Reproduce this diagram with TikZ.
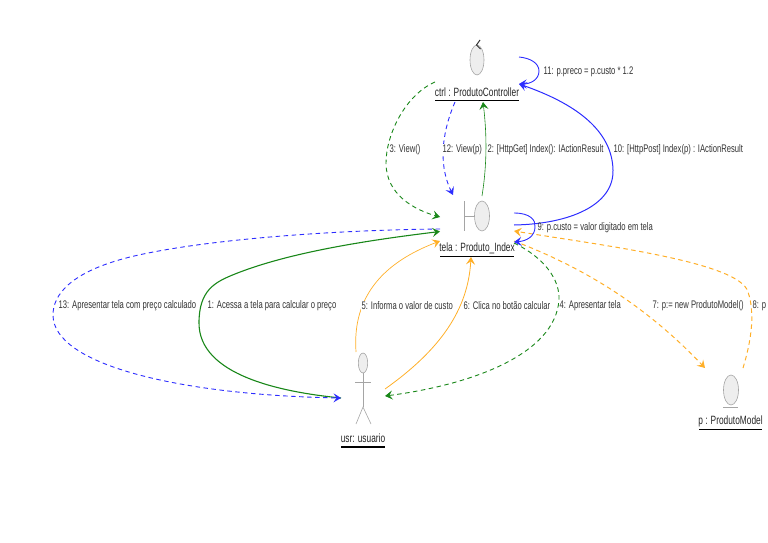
\documentclass[tikz,border=0pt]{standalone}
\usepackage{fontspec}
\setmainfont[FakeStretch=0.695]{Liberation Sans}
\usetikzlibrary{arrows.meta}

\definecolor{msgblue}{RGB}{45,45,255}
\definecolor{msggreen}{RGB}{25,135,25}
\definecolor{msgorange}{RGB}{255,175,40}
\definecolor{objgray}{RGB}{238,238,238}
\definecolor{objline}{RGB}{165,165,165}

\tikzset{
    msg/.style={-{Stealth[length=7.5pt,width=9pt,inset=3pt]}, line width=0.9pt},
    retmsg/.style={msg, dashed, dash pattern=on 4.5pt off 3.5pt},
    obj/.style={draw=objline, fill=objgray, line width=0.6pt},
    objbox/.style={inner sep=0pt, outer sep=0pt},
    objname/.style={font=\fontsize{12}{14}\selectfont, text=black!85, inner sep=0pt},
    msgtext/.style={font=\fontsize{11}{13}\selectfont, text=black!80, anchor=west, fill=white, inner sep=0.5pt}
}

\begin{document}
\begin{tikzpicture}[x=1pt, y=-1pt]
                \useasboundingbox (0, 0) rectangle (768, 543);

                \node[objbox, minimum width=84pt, minimum height=62pt] (ctrl) at (477, 71) {};

                \node[objbox, minimum width=74pt, minimum height=61pt] (tela) at (477, 226.5) {};

                \node[objbox, minimum width=44pt, minimum height=96pt] (usr) at (363, 400) {};

                \node[objbox, minimum width=63pt, minimum height=62pt] (modelo) at (730.5, 399) {};

                \draw[obj] (477, 60) ellipse[x radius=7, y radius=15];

                \draw[black!80, line width=1pt] (480, 40) -- (476.5, 45) -- (480.5, 49);

                \draw[obj] (482, 216) ellipse[x radius=7.5, y radius=15];

                \draw[objline, line width=0.6pt] (464, 201) -- (464, 231);

                \draw[objline, line width=0.6pt] (464, 216) -- (474.5, 216);

                \draw[obj] (363, 363) ellipse[x radius=4.7, y radius=10];

                \draw[objline, line width=0.6pt] (363, 373) -- (363, 407);

                \draw[objline, line width=0.6pt] (355, 382) -- (371, 382);

                \draw[objline, line width=0.6pt] (356, 424) -- (363, 407) -- (371, 424);

                \draw[obj] (731, 390) ellipse[x radius=7.5, y radius=15];

                \draw[objline, line width=1pt] (723, 407) -- (738, 407);

                \node[objname] (ctrlname) at (477, 92) {ctrl : ProdutoController};

                \draw[line width=1.1pt] (435, 100.5) -- (519, 100.5);

                \node[objname] (telaname) at (477, 248) {tela : Produto\_Index};

                \draw[line width=1.3pt] (440, 256.5) -- (514, 256.5);

                \node[objname] (usrname) at (363, 438) {usr: usuario};

                \draw[line width=1.3pt] (341, 447) -- (385, 447);

                \node[objname] (modeloname) at (730.5, 421) {p : ProdutoModel};

                \draw[line width=0.6pt] (699, 429) -- (762, 429);

                \draw[msg, msggreen, line width=1.1pt] ([yshift=2pt]usr.west) .. controls (280, 392) and (199, 375) .. (199, 323) .. controls (199, 290) and (215, 282) .. (235, 274) .. controls (290, 252) and (370, 240) .. ([yshift=-5pt]tela.west);

                \draw[retmsg, msgblue] ([yshift=-2.5pt]tela.west) .. controls (330, 230) and (200, 240) .. (130, 257) .. controls (70, 272) and (53, 295) .. (53, 315) .. controls (53, 365) and (180, 395) .. ([yshift=2pt]usr.west);

                \draw[msg, msgorange, line width=0.7pt] ([xshift=-7pt]usr.north) .. controls (352, 295) and (385, 262) .. ([yshift=-14.5pt]tela.west);

                \draw[msg, msgorange, line width=0.8pt] ([yshift=11pt]usr.east) .. controls (440, 350) and (468, 310) .. ([xshift=-6pt]tela.south);

                \draw[retmsg, msggreen] ([yshift=-16.5pt]tela.east) .. controls (545, 258) and (560, 280) .. (559, 300) .. controls (555, 355) and (470, 385) .. ([yshift=4pt]usr.east);

                \draw[retmsg, msgorange, line width=1pt] ([yshift=-14.5pt]tela.east) .. controls (590, 270) and (650, 310) .. ([xshift=-25.5pt]modelo.north);

                \draw[retmsg, msgorange, line width=1pt] ([xshift=12.5pt]modelo.north) .. controls (750, 345) and (756, 315) .. (748, 292) .. controls (740, 262) and (600, 245) .. ([yshift=-4.5pt]tela.east);

                \draw[msg, msgblue] ([yshift=13.5pt]tela.east) .. controls (530, 213) and (536, 220) .. (535, 227) .. controls (535, 236) and (527, 241) .. ([yshift=-15.5pt]tela.east);

                \draw[msg, msgblue, line width=1pt] ([yshift=1.5pt]tela.east) .. controls (570, 224) and (614, 205) .. (613, 170) .. controls (612, 125) and (565, 100) .. ([yshift=-13pt]ctrl.east);

                \draw[msg, msgblue] ([yshift=14pt]ctrl.east) .. controls (530, 58) and (539, 63) .. (539, 71) .. controls (539, 80) and (530, 84) .. ([yshift=-13pt]ctrl.east);

                \draw[msg, msggreen, line width=0.6pt] ([xshift=5pt]tela.north) .. controls (487, 165) and (487, 135) .. ([xshift=6pt]ctrl.south);

                \draw[retmsg, msggreen] ([yshift=-11pt]ctrl.west) .. controls (405, 95) and (386, 135) .. (386, 163) .. controls (386, 195) and (415, 210) .. ([yshift=9.5pt]tela.west);

                \draw[retmsg, msgblue] ([xshift=-22pt]ctrl.south) .. controls (445, 125) and (436, 160) .. ([xshift=-24pt,yshift=1pt]tela.north);

                \node[msgtext] (m13) at (58, 306) {13: Apresentar tela com preço calculado};

                \node[msgtext] (m1) at (207, 306) {1: Acessa a tela para calcular o preço};

                \node[msgtext] (m5) at (361, 306) {5: Informa o valor de custo};

                \node[msgtext] (m6) at (463, 306) {6: Clica no botão calcular};

                \node[msgtext] (m4) at (559, 306) {4: Apresentar tela};

                \node[msgtext] (m7) at (652, 306) {7: p:= new ProdutoModel()};

                \node[msgtext] (m8) at (752, 306) {8: p};

                \node[msgtext] (m3) at (389, 150) {3: View()};

                \node[msgtext] (m12) at (442, 150) {12: View(p)};

                \node[msgtext] (m2) at (487, 150) {2: [HttpGet] Index(): IActionResult};

                \node[msgtext] (m10) at (613, 150) {10: [HttpPost] Index(p) : IActionResult};

                \node[msgtext] (m11) at (543, 72) {11: p.preco = p.custo * 1.2};

                \node[msgtext, fill=none] (m9) at (537, 228) {9: p.custo = valor digitado em tela};
            \end{tikzpicture}
\end{document}
